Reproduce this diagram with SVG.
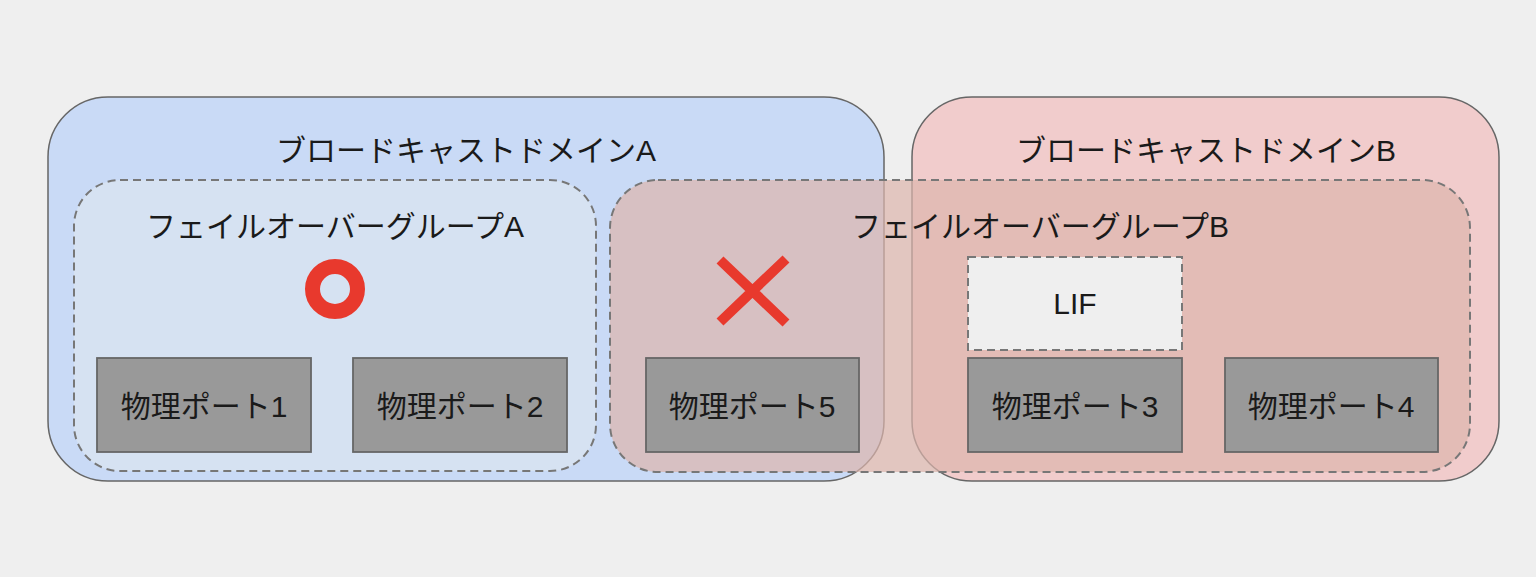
<svg xmlns="http://www.w3.org/2000/svg" width="1536" height="577" viewBox="0 0 1536 577">
  <style>
    .domain { stroke: #666666; stroke-width: 1.5; }
    .grp { stroke: #777777; stroke-width: 2; stroke-dasharray: 8 5; }
    .port { fill: #999999; stroke: #666666; stroke-width: 1.8; }
    .lif { fill: #efefef; stroke: #777777; stroke-width: 2; stroke-dasharray: 8 5; }
    text { font-family: "Liberation Sans", "Noto Sans CJK JP", sans-serif; font-size: 30px; fill: #1a1a1a; text-anchor: middle; }
    .mark { stroke: #e8392d; fill: none; }
  </style>
  <rect width="1536" height="577" fill="#efefef"/>

  <g id="domainA">
    <rect class="domain" x="48" y="97" width="836" height="384" rx="60" ry="60" fill="#c9daf6"/>
    <text x="466" y="161">ブロードキャストドメインA</text>
  </g>
  <g id="domainB">
    <rect class="domain" x="912" y="97" width="587" height="384" rx="60" ry="60" fill="#f1cccc"/>
    <text x="1206" y="161">ブロードキャストドメインB</text>
  </g>

  <g id="groupA">
    <rect class="grp" x="74" y="180" width="522" height="291" rx="46" ry="46" fill="#d6e2f2"/>
    <text x="335" y="237">フェイルオーバーグループA</text>
  </g>
  <g id="ok-mark">
    <circle class="mark" cx="335" cy="289" r="22.5" stroke-width="15"/>
  </g>
  <g id="port1">
    <rect class="port" x="97" y="358" width="214" height="94"/>
    <text x="204" y="417">物理ポート1</text>
  </g>
  <g id="port2">
    <rect class="port" x="353" y="358" width="214" height="94"/>
    <text x="460" y="417">物理ポート2</text>
  </g>

  <g id="groupB">
    <rect class="grp" x="610" y="180" width="860" height="292" rx="48" ry="48" fill="#ddb5ac" fill-opacity="0.7"/>
    <text x="1040" y="237">フェイルオーバーグループB</text>
  </g>
  <g id="ng-mark">
    <path class="mark" d="M720 260 L786 323 M786 259 L720 322" stroke-width="10"/>
  </g>
  <g id="port5">
    <rect class="port" x="646" y="358" width="213" height="94"/>
    <text x="752" y="417">物理ポート5</text>
  </g>
  <g id="lif">
    <rect class="lif" x="968" y="257" width="214" height="93"/>
    <text x="1075" y="314">LIF</text>
  </g>
  <g id="port3">
    <rect class="port" x="968" y="358" width="214" height="94"/>
    <text x="1075" y="417">物理ポート3</text>
  </g>
  <g id="port4">
    <rect class="port" x="1225" y="358" width="213" height="94"/>
    <text x="1331" y="417">物理ポート4</text>
  </g>
  <g id="connectors"></g>
</svg>
